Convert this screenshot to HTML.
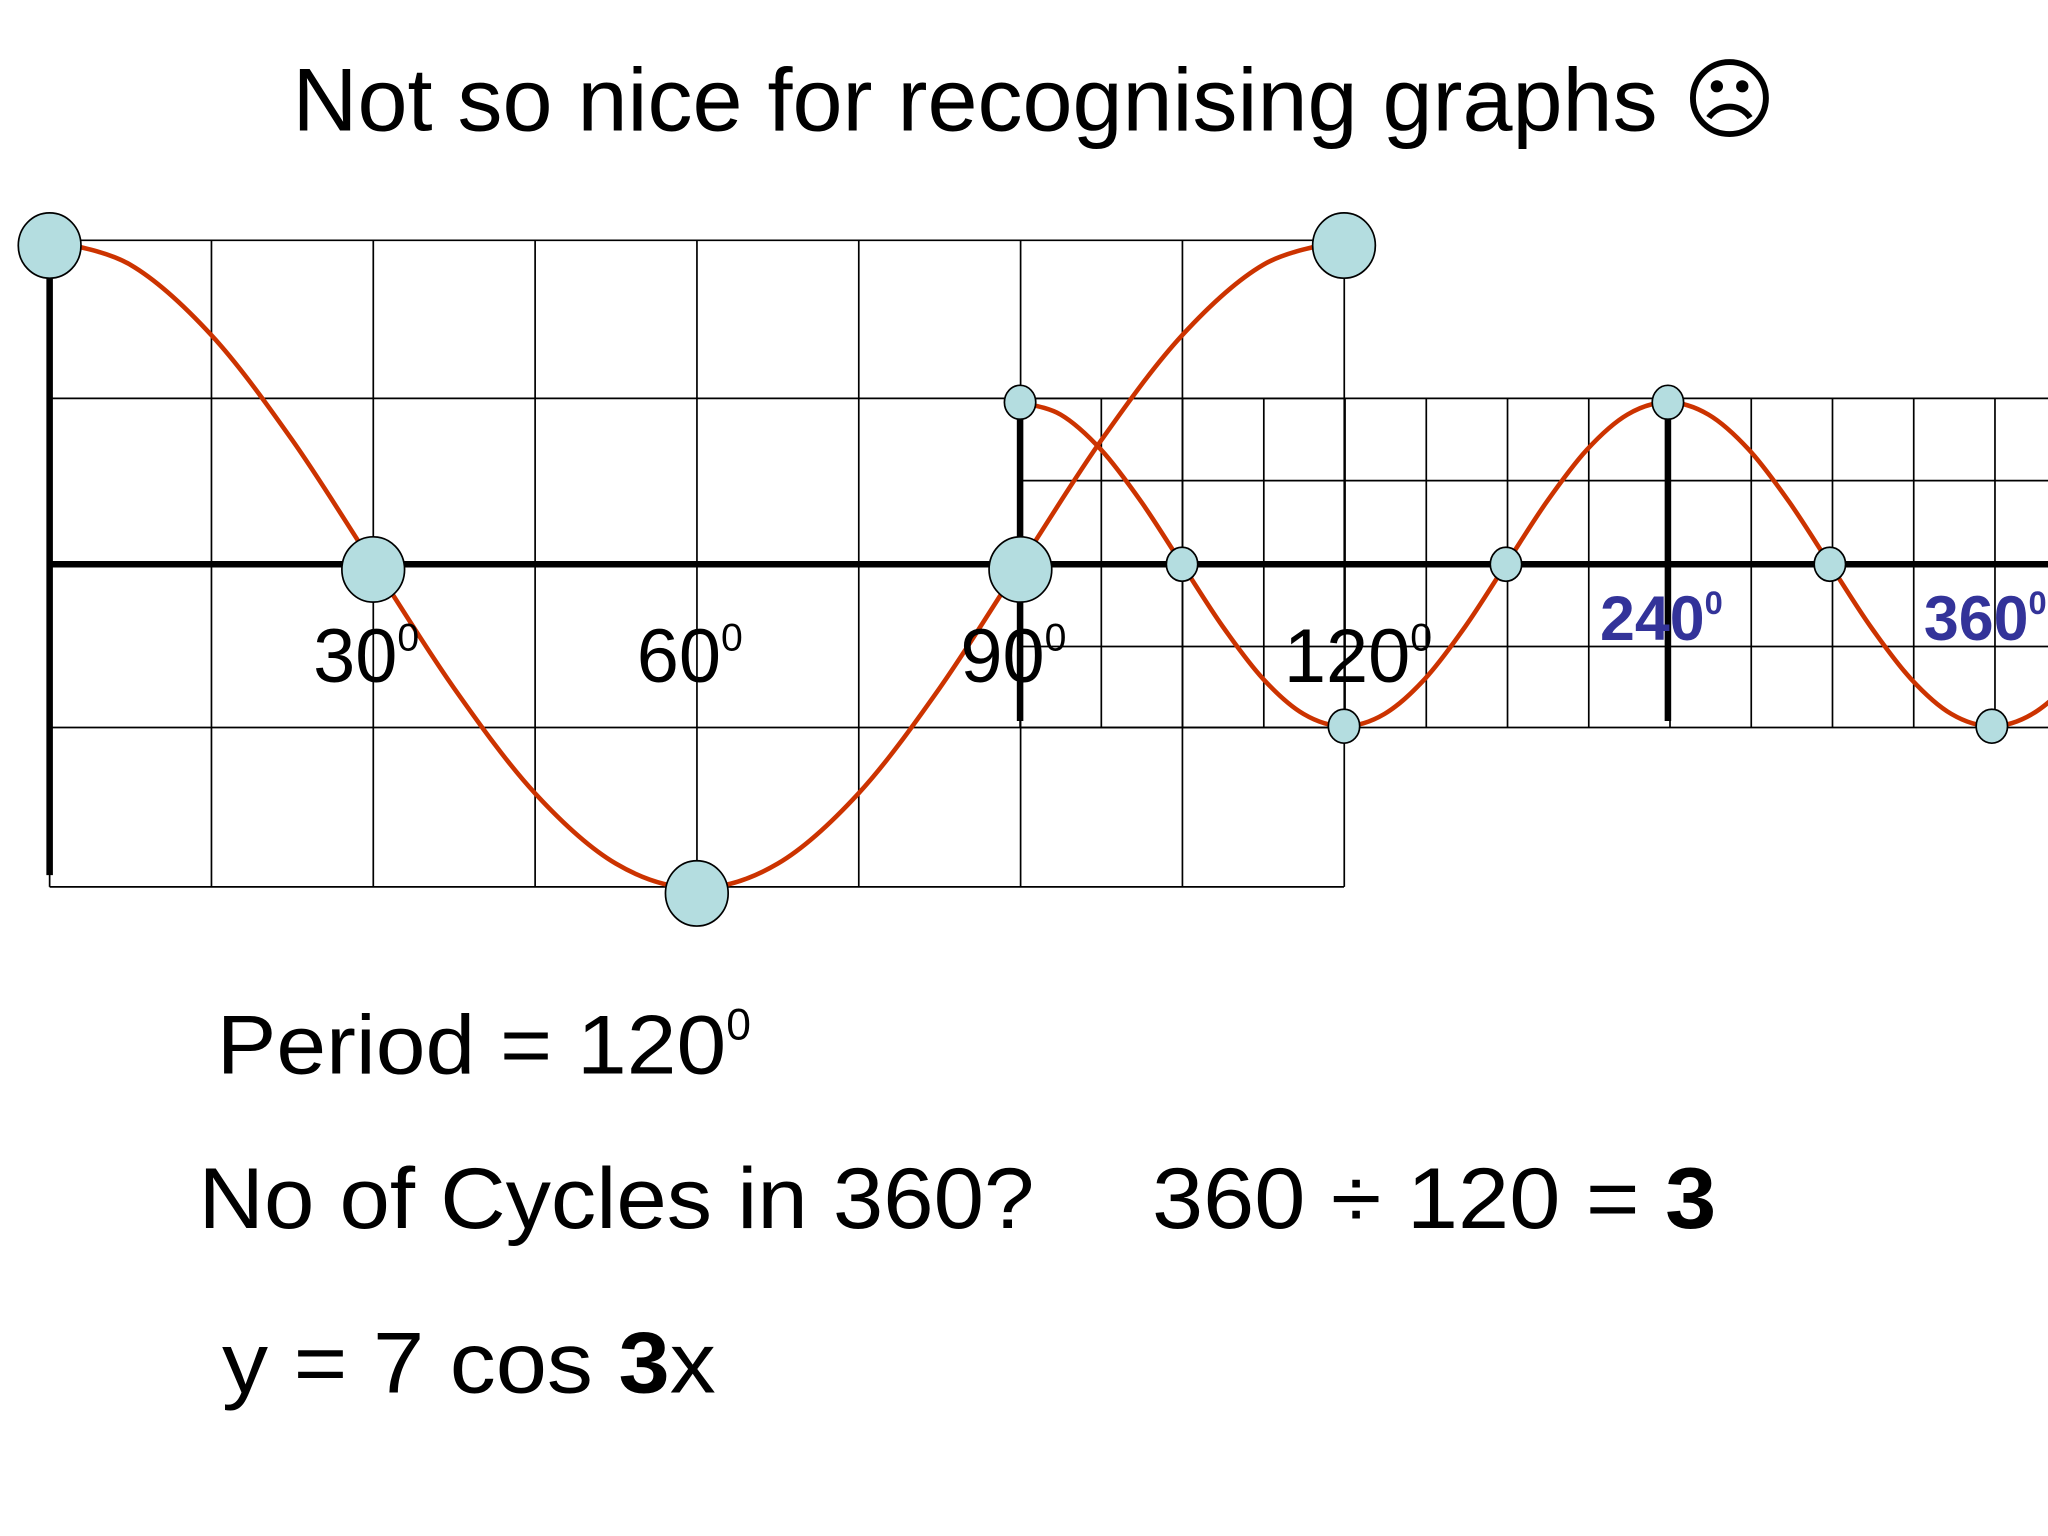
<!DOCTYPE html>
<html><head><meta charset="utf-8"><style>
html,body{margin:0;padding:0;background:#fff;}
svg{display:block;}
text{font-family:"Liberation Sans","DejaVu Sans",sans-serif;}
</style></head><body>
<svg id="chart" width="2048" height="1536" viewBox="0 0 1568 1176" xmlns="http://www.w3.org/2000/svg">
<rect width="1568" height="1176" fill="#fff"/>
<text x="224" y="100" font-size="68" textLength="1136" lengthAdjust="spacingAndGlyphs">Not so nice for recognising graphs ☹</text>
<g id="grids"></g>
<g id="curves"></g>
<g id="dots"></g>
<g id="labels"></g>
<text x="166" y="822" font-size="64"><tspan textLength="390" lengthAdjust="spacingAndGlyphs">Period = 120</tspan><tspan font-size="34" dy="-26">0</tspan></text>
<text x="152" y="940" font-size="66" textLength="640" lengthAdjust="spacingAndGlyphs">No of Cycles in 360?</text>
<text x="882" y="940" font-size="66" textLength="432" lengthAdjust="spacingAndGlyphs">360 ÷ 120 = <tspan font-weight="bold">3</tspan></text>
<text x="170" y="1066" font-size="66" textLength="378" lengthAdjust="spacingAndGlyphs">y = 7 cos <tspan font-weight="bold">3</tspan>x</text>
</svg>
<script>
// Large graph data (y = 7 cos 3x)
const bigDeg = [0,7.5,15,22.5,30,37.5,45,52.5,60,67.5,75,82.5,90,97.5,105,112.5,120];
const bigVal = [7,6.47,4.95,2.68,0,-2.68,-4.95,-6.47,-7,-6.47,-4.95,-2.68,0,2.68,4.95,6.47,7];
const bigDotDeg = [0,30,60,90,120];
const bigDotVal = [7,0,-7,0,7];
const bigTicks = ["30","60","90","120"];
const bigTickDeg = [30,60,90,120];
// Small graph data
const smallDeg = [0,15,30,45,60,75,90,105,120,135,150,165,180,195,210,225,240,255,270,285,300,315,330,345,360,375,390,405,420];
const smallVal = [7,6.47,4.95,2.68,0,-2.68,-4.95,-6.47,-7,-6.47,-4.95,-2.68,0,2.68,4.95,6.47,7,6.47,4.95,2.68,0,-2.68,-4.95,-6.47,-7,-6.47,-4.95,-2.68,0];
const smallDotDeg = [0,60,120,180,240,300,360];
const smallDotVal = [7,0,-7,0,7,0,-7];
const smallTicks = ["240","360"];
const smallTickDeg = [240,360];

const NS="http://www.w3.org/2000/svg";
function mk(tag,attrs,parent){const e=document.createElementNS(NS,tag);for(const k in attrs)e.setAttribute(k,attrs[k]);parent.appendChild(e);return e;}
const bx=d=>38+d*(991/120), by=v=>432-v*(248/7);
const sx=d=>781+d*(248/120), sy=v=>432-v*(124/7);
const grids=document.getElementById('grids'),curves=document.getElementById('curves'),dots=document.getElementById('dots'),labels=document.getElementById('labels');

for(let i=0;i<=8;i++){const x=38+i*123.9;const l=mk('line',{x1:x,y1:184,x2:x,y2:679,stroke:'#000','stroke-width':1.3},grids);

}
[184,305,557,679].forEach(y=>{const l=mk('line',{x1:38,y1:y,x2:1029,y2:y,stroke:'#000','stroke-width':1.3},grids);

});
for(let x=781;x<=1568;x+=62.2){const l=mk('line',{x1:x,y1:305,x2:x,y2:557,stroke:'#000','stroke-width':1.3},grids);

}
[305,368,495,557].forEach(y=>{const l=mk('line',{x1:781,y1:y,x2:1568,y2:y,stroke:'#000','stroke-width':1.3},grids);

});
let a=mk('line',{x1:38,y1:210,x2:38,y2:670,stroke:'#000','stroke-width':5},grids);


a=mk('line',{x1:38,y1:432,x2:1568,y2:432,stroke:'#000','stroke-width':5},grids);


a=mk('line',{x1:781,y1:318,x2:781,y2:552,stroke:'#000','stroke-width':5},grids);


a=mk('line',{x1:sx(240),y1:318,x2:sx(240),y2:552,stroke:'#000','stroke-width':5},grids);



function crPath(xs,ys){let d='M'+xs[0]+','+ys[0];for(let i=0;i<xs.length-1;i++){const x0=xs[Math.max(i-1,0)],y0=ys[Math.max(i-1,0)],x1=xs[i],y1=ys[i],x2=xs[i+1],y2=ys[i+1],x3=xs[Math.min(i+2,xs.length-1)],y3=ys[Math.min(i+2,xs.length-1)];
d+=' C'+(x1+(x2-x0)/6)+','+(y1+(y2-y0)/6)+' '+(x2-(x3-x1)/6)+','+(y2-(y3-y1)/6)+' '+x2+','+y2;}return d;}
const defs=mk('defs',{},curves);const cp=mk('clipPath',{id:'clip'},defs);mk('rect',{x:0,y:0,width:1568,height:1176},cp);
let p=mk('path',{d:crPath(bigDeg.map(bx),bigVal.map(by)),fill:'none',stroke:'#cc3300','stroke-width':3.5},curves);


p=mk('path',{d:crPath(smallDeg.map(sx),smallVal.map(sy)),fill:'none',stroke:'#cc3300','stroke-width':3.5,'clip-path':'url(#clip)'},curves);



bigDotDeg.forEach((d,i)=>{const c=mk('ellipse',{cx:bx(d),cy:by(bigDotVal[i])+4,rx:24,ry:25,fill:'#b4dde0',stroke:'#000','stroke-width':1.3},dots);

});
smallDotDeg.forEach((d,i)=>{const c=mk('ellipse',{cx:sx(d),cy:sy(smallDotVal[i]),rx:12,ry:13,fill:'#b4dde0',stroke:'#000','stroke-width':1.3},dots);

});

bigTicks.forEach((t,i)=>{const x=bx(bigTickDeg[i]);const tx=mk('text',{x:x-46,y:522,'font-size':58},labels);tx.textContent=t;
const s=mk('tspan',{'font-size':30,dy:-24},tx);s.textContent='0';

});
smallTicks.forEach((t,i)=>{const x=sx(smallTickDeg[i]);const tx=mk('text',{x:x-52,y:490,'font-size':48,'font-weight':'bold',fill:'#333399'},labels);tx.textContent=t;
const s=mk('tspan',{'font-size':25,dy:-20},tx);s.textContent='0';

});
</script>
</body></html>
